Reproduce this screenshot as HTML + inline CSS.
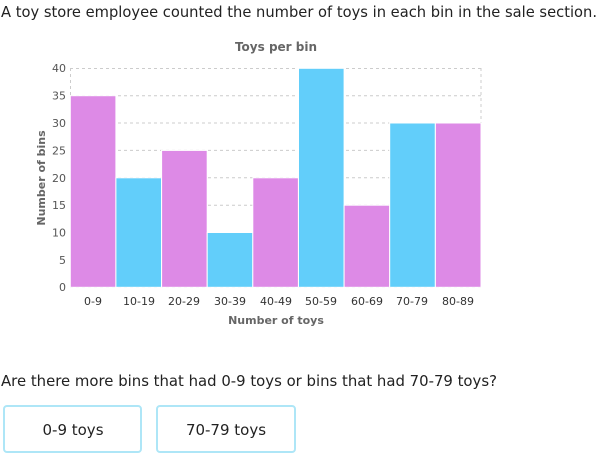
<!DOCTYPE html>
<html><head><style>
html,body{margin:0;padding:0;background:#fff;width:600px;height:455px;overflow:hidden}
svg{display:block}
</style></head><body>
<svg width="600" height="455" xmlns="http://www.w3.org/2000/svg" font-family="'DejaVu Sans', Verdana, sans-serif">
<text x="1" y="17" font-size="15" fill="#222" textLength="596" lengthAdjust="spacingAndGlyphs">A toy store employee counted the number of toys in each bin in the sale section.</text>
<text x="276" y="51" font-size="12" font-weight="bold" fill="#666" text-anchor="middle">Toys per bin</text>
<g stroke="#ccc" stroke-dasharray="3,3" stroke-width="1">
<line x1="70" y1="68.5" x2="481" y2="68.5"/><line x1="70" y1="95.7" x2="481" y2="95.7"/>
<line x1="70" y1="123" x2="481" y2="123"/><line x1="70" y1="150.4" x2="481" y2="150.4"/>
<line x1="70" y1="177.8" x2="481" y2="177.8"/><line x1="70" y1="205.2" x2="481" y2="205.2"/>
<line x1="70" y1="232.5" x2="481" y2="232.5"/><line x1="70" y1="259.9" x2="481" y2="259.9"/>
<line x1="70" y1="287.3" x2="481" y2="287.3"/>
<line x1="70.5" y1="68" x2="70.5" y2="287"/><line x1="481" y1="68" x2="481" y2="287"/>
</g>
<g stroke="#fff" stroke-width="1">
<rect x="70.3" y="95.7" width="45.6" height="191.6" fill="#dd8ae6"/>
<rect x="115.9" y="177.8" width="45.6" height="109.5" fill="#62cefa"/>
<rect x="161.6" y="150.4" width="45.6" height="136.9" fill="#dd8ae6"/>
<rect x="207.2" y="232.5" width="45.6" height="54.8" fill="#62cefa"/>
<rect x="252.8" y="177.8" width="45.6" height="109.5" fill="#dd8ae6"/>
<rect x="298.5" y="68.3" width="45.6" height="219" fill="#62cefa"/>
<rect x="344.1" y="205.2" width="45.6" height="82.1" fill="#dd8ae6"/>
<rect x="389.7" y="123" width="45.6" height="164.3" fill="#62cefa"/>
<rect x="435.4" y="123" width="45.6" height="164.3" fill="#dd8ae6"/>
</g>
<g font-size="11" fill="#555" text-anchor="end">
<text x="66" y="72">40</text><text x="66" y="99.5">35</text><text x="66" y="127">30</text>
<text x="66" y="154.5">25</text><text x="66" y="182">20</text><text x="66" y="209">15</text>
<text x="66" y="236.5">10</text><text x="66" y="264">5</text><text x="66" y="291">0</text>
</g>
<g font-size="11" fill="#333" text-anchor="middle">
<text x="93" y="305">0-9</text><text x="139" y="305">10-19</text><text x="184" y="305">20-29</text>
<text x="230" y="305">30-39</text><text x="276" y="305">40-49</text><text x="321" y="305">50-59</text>
<text x="367" y="305">60-69</text><text x="412" y="305">70-79</text><text x="458" y="305">80-89</text>
</g>
<text x="276" y="324" font-size="11" font-weight="bold" fill="#666" text-anchor="middle">Number of toys</text>
<text transform="translate(45,178) rotate(-90)" font-size="11" font-weight="bold" fill="#666" text-anchor="middle">Number of bins</text>
<text x="1" y="386" font-size="15" fill="#222" textLength="496" lengthAdjust="spacingAndGlyphs">Are there more bins that had 0-9 toys or bins that had 70-79 toys?</text>
<rect x="4" y="406" width="137" height="46" rx="3" fill="#fff" stroke="#aee6f7" stroke-width="2"/>
<rect x="157" y="406" width="138" height="46" rx="3" fill="#fff" stroke="#aee6f7" stroke-width="2"/>
<text x="73" y="435" font-size="15" fill="#222" text-anchor="middle">0-9 toys</text>
<text x="226" y="435" font-size="15" fill="#222" text-anchor="middle">70-79 toys</text>
</svg>
</body></html>
